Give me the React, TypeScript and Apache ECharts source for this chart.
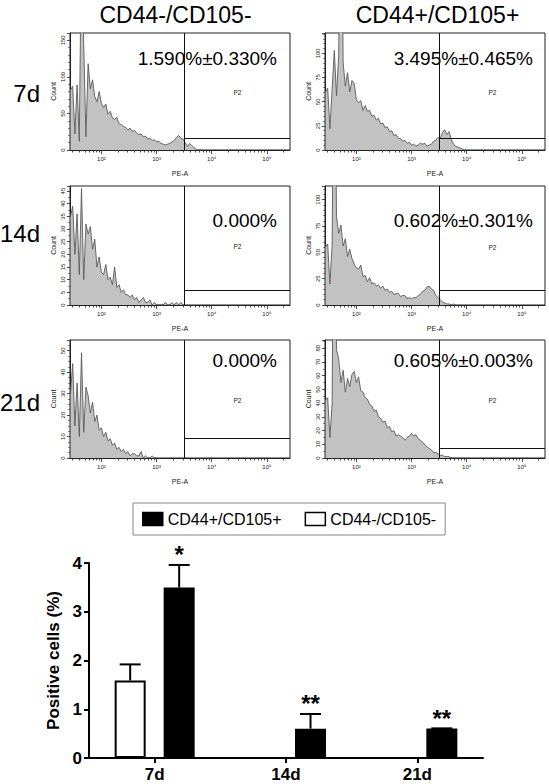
import React, { useEffect, useRef } from "react";
import * as echarts from "echarts";

// ---------- Flow cytometry histograms (PE-A, log scale) ----------
const BIN_LOG_START = 1.44; // log10 of first bin centre
const BIN_LOG_STEP = 0.04; // bin width in decades
const PE_MIN = 27;
const PE_MAX = 262144;
const PE_GATE = 3240;
const PE_DECADES = [100, 1000, 10000, 100000];
const PE_MINOR = [
  30, 40, 50, 60, 70, 80, 90,
  200, 300, 400, 500, 600, 700, 800, 900,
  2000, 3000, 4000, 5000, 6000, 7000, 8000, 9000,
  20000, 30000, 40000, 50000, 60000, 70000, 80000, 90000,
  200000,
];

const COUNTS_7D_NEG = [
  82, 87, 22, 89, 12, 300, 144, 18, 118, 84, 96, 73, 66, 80, 64, 58, 63, 49, 53, 44,
  42, 45, 36, 35, 32, 31, 27, 30, 25, 27, 23, 21, 22, 18, 19, 15, 16, 13, 14, 11,
  12, 9, 8, 7, 8, 9, 11, 13, 17, 20, 16, 15, 10, 5, 9, 6, 3, 1, 0, 0,
];
const COUNTS_7D_POS = [
  60, 64, 22, 62, 103, 56, 98, 400, 90, 66, 80, 60, 72, 69, 52, 49, 51, 41, 46, 40,
  41, 35, 36, 31, 33, 27, 28, 23, 24, 19, 20, 15, 16, 12, 12, 9, 10, 7, 8, 5,
  6, 4, 5, 7, 6, 7, 4, 5, 6, 9, 10, 13, 12, 18, 21, 16, 19, 11, 6, 4, 3, 2, 1, 0,
];
const COUNTS_14D_NEG = [
  35, 39, 20, 36, 12, 46, 10, 32, 28, 31, 22, 26, 15, 19, 13, 12, 16, 10, 11, 8,
  15, 7, 8, 5, 6, 4, 4, 3, 4, 2, 3, 1, 2, 3, 1, 1, 2, 0, 1, 0,
  0, 0, 0, 1, 0, 0, 1, 0, 1, 0, 1, 0, 0,
];
const COUNTS_14D_POS = [
  55, 58, 20, 56, 300, 84, 68, 76, 56, 63, 46, 53, 44, 39, 35, 34, 38, 27, 28, 22,
  26, 20, 21, 18, 19, 16, 18, 14, 15, 12, 13, 10, 11, 11, 8, 9, 9, 6, 7, 6,
  7, 7, 9, 10, 13, 14, 17, 18, 15, 14, 9, 7, 5, 3, 2, 1, 1, 0, 1, 0,
];
const COUNTS_21D_NEG = [
  30, 44, 15, 35, 10, 49, 12, 33, 29, 21, 26, 17, 20, 13, 14, 10, 12, 8, 9, 6,
  7, 4, 5, 3, 4, 2, 3, 1, 2, 2, 1, 1, 3, 0, 1, 0, 0, 1, 0, 0,
];
const COUNTS_21D_POS = [
  42, 44, 15, 40, 250, 79, 72, 55, 64, 48, 58, 52, 61, 63, 55, 59, 49, 48, 44, 43,
  39, 38, 34, 35, 30, 29, 26, 27, 22, 23, 19, 20, 16, 17, 16, 15, 13, 15, 16, 18,
  16, 17, 14, 13, 11, 10, 8, 7, 6, 4, 4, 3, 2, 2, 1, 1, 1, 0, 0,
];

const COLUMN_TITLES = ["CD44-/CD105-", "CD44+/CD105+"];
const ROW_LABELS = ["7d", "14d", "21d"];
const PANEL_COUNTS = [COUNTS_7D_NEG, COUNTS_7D_POS, COUNTS_14D_NEG, COUNTS_14D_POS, COUNTS_21D_NEG, COUNTS_21D_POS];
const PANEL_PERCENT = ["1.590%±0.330%", "3.495%±0.465%", "0.000%", "0.602%±0.301%", "0.000%", "0.605%±0.003%"];
const PANEL_YMAX = [160, 121, 47, 113, 55, 86];
const PANEL_YINTERVAL = [50, 25, 5, 25, 10, 10];
const PANEL_GATE_Y = [16, 12, 6, 14, 9, 7];
const GATE_NAME = "P2";

// ---------- Bar chart ----------
const DAYS = ["7d", "14d", "21d"];
const NEG_NAME = "CD44-/CD105-";
const POS_NAME = "CD44+/CD105+";
const NEG_MEAN = [1.59, 0, 0];
const NEG_SD = [0.33, 0, 0];
const POS_MEAN = [3.495, 0.602, 0.605];
const POS_SD = [0.465, 0.301, 0.003];
const POS_SIG = ["*", "**", "**"];
const NEG_SIG = ["", "", ""];

// ---------- layout / style ----------
const FONT = "'Liberation Sans', Arial, sans-serif";
const COL_LEFT = [70, 325];
const ROW_TOP = [33, 186, 340];
const ROW_H = [117, 119, 118];
const PANEL_W = 220;
const MINOR_SPLIT = [5, 5, 2, 5, 4, 2];
const P2_OFFSET = [7, 7, 9, 9, 11, 6];
const TITLE_X = [175.5, 437.5];
const ROW_Y = [93, 233, 402];
const PCT_RIGHT = [277, 533];
const PCT_Y = [58, 220, 360];
const SUP: Record<number, string> = { 2: "²", 3: "³", 4: "⁴", 5: "⁵" };

const BAR_W = 31;
const BAR_GAP_PX = 18;
const CAP_W = 21;
const STAR_GAP = 10;

function buildOption() {
  const grids: any[] = [];
  const xAxes: any[] = [];
  const yAxes: any[] = [];
  const series: any[] = [];
  const axisColor = "#222";

  PANEL_COUNTS.forEach((counts, p) => {
    const row = Math.floor(p / 2);
    const col = p % 2;
    grids.push({
      left: COL_LEFT[col],
      top: ROW_TOP[row],
      width: PANEL_W,
      height: ROW_H[row],
      show: true,
      borderColor: axisColor,
      borderWidth: 1,
      backgroundColor: "transparent",
      containLabel: false,
      outerBoundsMode: "none",
    });
    // data axis (log)
    xAxes.push({
      gridIndex: p,
      type: "log",
      logBase: 10,
      min: PE_MIN,
      max: PE_MAX,
      position: "bottom",
      axisLine: { show: true, lineStyle: { color: axisColor, width: 1 } },
      axisTick: { show: false },
      axisLabel: { show: false },
      splitLine: { show: false },
      minorTick: { show: false },
    });
    // decade ticks + labels
    xAxes.push({
      gridIndex: p,
      type: "value",
      position: "bottom",
      min: Math.log10(PE_MIN),
      max: Math.log10(PE_MAX),
      axisLine: { show: false },
      splitLine: { show: false },
      axisTick: {
        show: true,
        customValues: PE_DECADES.map((v) => Math.log10(v)),
        length: 4,
        lineStyle: { color: axisColor, width: 0.8 },
      },
      axisLabel: {
        show: true,
        customValues: PE_DECADES.map((v) => Math.log10(v)),
        formatter: (v: number) => "10" + SUP[Math.round(v)],
        fontSize: 6,
        color: "#222",
        margin: 6,
        fontFamily: FONT,
      },
      name: "PE-A",
      nameLocation: "middle",
      nameGap: 20,
      nameTextStyle: { fontSize: 7, color: "#222", fontFamily: FONT },
    });
    // minor log ticks
    xAxes.push({
      gridIndex: p,
      type: "value",
      position: "bottom",
      min: Math.log10(PE_MIN),
      max: Math.log10(PE_MAX),
      axisLine: { show: false },
      splitLine: { show: false },
      axisLabel: { show: false },
      axisTick: {
        show: true,
        customValues: PE_MINOR.map((v) => Math.log10(v)),
        length: 2.5,
        lineStyle: { color: axisColor, width: 0.8 },
      },
    });
    yAxes.push({
      gridIndex: p,
      type: "value",
      min: 0,
      max: PANEL_YMAX[p],
      interval: PANEL_YINTERVAL[p],
      axisLine: { show: true, lineStyle: { color: axisColor, width: 1 } },
      axisTick: { show: true, length: 3, lineStyle: { color: axisColor, width: 0.8 } },
      minorTick: { show: true, splitNumber: MINOR_SPLIT[p], length: 1.8, lineStyle: { color: axisColor, width: 0.6 } },
      splitLine: { show: false },
      axisLabel: { rotate: 90, fontSize: 6, color: "#222", margin: 4, fontFamily: FONT, showMaxLabel: false },
      name: "Count",
      nameLocation: "middle",
      nameRotate: 90,
      nameGap: 13,
      nameTextStyle: { fontSize: 7, color: "#222", fontFamily: FONT },
    });
    const gy = PANEL_GATE_Y[p];
    series.push({
      type: "line",
      xAxisIndex: p * 3,
      yAxisIndex: p,
      silent: true,
      clip: true,
      symbol: "none",
      data: counts.map((c, i) => [Math.pow(10, BIN_LOG_START + i * BIN_LOG_STEP), c]),
      lineStyle: { color: "#5a5a5a", width: 0.9 },
      areaStyle: { color: "#c2c2c2", opacity: 1 },
      markLine: {
        silent: true,
        symbol: "none",
        label: { show: false },
        lineStyle: { color: "#111", width: 1, type: "solid" },
        data: [
          { xAxis: PE_GATE },
          [{ coord: [PE_GATE, gy] }, { coord: [PE_MAX, gy] }],
        ],
      },
      markArea: {
        silent: true,
        itemStyle: { color: "rgba(0,0,0,0)" },
        label: {
          show: true,
          position: "inside",
          fontSize: 6.5,
          color: "#222",
          fontFamily: FONT,
          offset: [0, P2_OFFSET[p]],
        },
        data: [[{ name: GATE_NAME, coord: [PE_GATE, gy] }, { coord: [PE_MAX, PANEL_YMAX[p]] }]],
      },
    });
  });

  // ---------- bar chart ----------
  const barGrid = grids.length;
  grids.push({
    left: 89,
    top: 563,
    width: 394,
    height: 195,
    containLabel: false,
    outerBoundsMode: "none",
  });
  const barX = xAxes.length;
  xAxes.push({
    gridIndex: barGrid,
    type: "category",
    data: DAYS,
    axisLine: { show: true, lineStyle: { color: "#000", width: 2 } },
    axisTick: { show: true, alignWithLabel: true, length: 5, lineStyle: { color: "#000", width: 2 } },
    axisLabel: { fontSize: 17, fontWeight: "bold", color: "#000", margin: 8, fontFamily: FONT },
    splitLine: { show: false },
  });
  const barY = yAxes.length;
  yAxes.push({
    gridIndex: barGrid,
    type: "value",
    min: 0,
    max: 4,
    interval: 1,
    axisLine: { show: true, lineStyle: { color: "#000", width: 2 } },
    axisTick: { show: true, length: 5, lineStyle: { color: "#000", width: 2 } },
    splitLine: { show: false },
    axisLabel: { fontSize: 17, fontWeight: "bold", color: "#000", margin: 7, fontFamily: FONT },
    name: "Positive cells (%)",
    nameLocation: "middle",
    nameRotate: 90,
    nameGap: 21,
    nameTextStyle: { fontSize: 17, fontWeight: "bold", color: "#000", fontFamily: FONT },
  });

  series.push({
    type: "bar",
    name: NEG_NAME,
    xAxisIndex: barX,
    yAxisIndex: barY,
    data: NEG_MEAN,
    barWidth: BAR_W,
    barGap: (BAR_GAP_PX / BAR_W) * 100 + "%",
    itemStyle: { color: "#fff", borderColor: "#000", borderWidth: 2 },
    silent: true,
  });
  series.push({
    type: "bar",
    name: POS_NAME,
    xAxisIndex: barX,
    yAxisIndex: barY,
    data: POS_MEAN,
    barWidth: BAR_W,
    barGap: (BAR_GAP_PX / BAR_W) * 100 + "%",
    itemStyle: { color: "#000", borderColor: "#000", borderWidth: 2 },
    silent: true,
  });

  const barOffset = (BAR_W + BAR_GAP_PX) / 2;
  const errSeries = (means: number[], sds: number[], sigs: string[], sign: number) => ({
    type: "custom",
    xAxisIndex: barX,
    yAxisIndex: barY,
    silent: true,
    z: 5,
    data: means.map((m, i) => [i, m]),
    encode: { x: 0, y: 1 },
    renderItem: (params: any, api: any) => {
      const i = params.dataIndex;
      const m = means[i];
      const sd = sds[i];
      const base = api.coord([i, m]);
      const top = api.coord([i, m + sd]);
      const x = base[0] + sign * barOffset;
      const children: any[] = [];
      if (sd > 0) {
        const st = { stroke: "#000", lineWidth: 2 };
        children.push({ type: "line", shape: { x1: x, y1: base[1], x2: x, y2: top[1] }, style: st });
        children.push({ type: "line", shape: { x1: x - CAP_W / 2, y1: top[1], x2: x + CAP_W / 2, y2: top[1] }, style: st });
      }
      if (sigs[i]) {
        children.push({
          type: "text",
          x: x,
          y: top[1] - STAR_GAP,
          style: {
            text: sigs[i],
            font: "bold 24px " + FONT,
            fill: "#000",
            align: "center",
            verticalAlign: "middle",
            textAlign: "center",
            textVerticalAlign: "middle",
          },
        });
      }
      return { type: "group", children };
    },
  });
  series.push(errSeries(NEG_MEAN, NEG_SD, NEG_SIG, -1));
  series.push(errSeries(POS_MEAN, POS_SD, POS_SIG, 1));

  const txt = (x: number, y: number, text: string, font: string, align: string) => ({
    type: "text",
    x,
    y,
    silent: true,
    style: {
      text,
      font,
      fill: "#000",
      align,
      verticalAlign: "middle",
      textAlign: align,
      textVerticalAlign: "middle",
    },
  });

  const graphic: any[] = [];
  COLUMN_TITLES.forEach((t, c) => graphic.push(txt(TITLE_X[c], 15, t, "23px " + FONT, "center")));
  ROW_LABELS.forEach((t, r) => graphic.push(txt(40, ROW_Y[r], t, "24px " + FONT, "right")));
  PANEL_PERCENT.forEach((t, p) => {
    const row = Math.floor(p / 2);
    const col = p % 2;
    graphic.push(txt(PCT_RIGHT[col], PCT_Y[row], t, "19px " + FONT, "right"));
  });

  return {
    animation: false,
    backgroundColor: "#fff",
    textStyle: { fontFamily: FONT },
    grid: grids,
    xAxis: xAxes,
    yAxis: yAxes,
    series,
    graphic,
    legend: {
      data: [POS_NAME, NEG_NAME],
      left: 133,
      top: 503,
      orient: "horizontal",
      icon: "rect",
      itemWidth: 20,
      itemHeight: 13,
      itemGap: 23,
      padding: [8, 9, 8, 9],
      borderColor: "#888",
      borderWidth: 1,
      selectedMode: false,
      itemStyle: { borderWidth: 1.5 },
      textStyle: { fontSize: 16, color: "#000", fontFamily: FONT },
    },
  };
}

export default function App() {
  const ref = useRef<HTMLDivElement>(null);
  useEffect(() => {
    if (!ref.current) return;
    const chart = echarts.init(ref.current, null, { renderer: "svg" });
    chart.setOption(buildOption() as any);
    return () => chart.dispose();
  }, []);
  return (
    <div
      ref={ref}
      style={{ position: "fixed", left: 0, top: 0, width: 549, height: 784, background: "#fff" }}
    />
  );
}
